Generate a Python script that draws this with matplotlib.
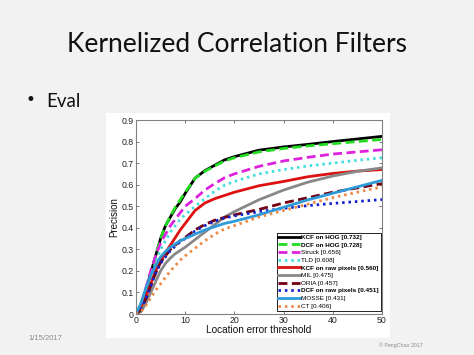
import matplotlib
matplotlib.use('Agg')
import matplotlib.pyplot as plt
from matplotlib.patches import Rectangle
import numpy as np

### data ###
thresholds = [0, 1, 2, 3, 4, 5, 6, 7, 8, 9, 10, 12, 14, 16, 18, 20, 25, 30, 35, 40, 45, 50]

kcf_hog = [0, 0.03, 0.11, 0.19, 0.27, 0.35, 0.41, 0.45, 0.49, 0.52, 0.56, 0.63, 0.665, 0.69, 0.715, 0.73, 0.76, 0.775, 0.787, 0.80, 0.812, 0.824]
dcf_hog = [0, 0.03, 0.11, 0.19, 0.27, 0.35, 0.41, 0.455, 0.495, 0.53, 0.565, 0.63, 0.662, 0.687, 0.71, 0.725, 0.752, 0.768, 0.78, 0.79, 0.80, 0.81]
struck = [0, 0.04, 0.12, 0.2, 0.27, 0.33, 0.37, 0.41, 0.44, 0.47, 0.5, 0.535, 0.575, 0.605, 0.632, 0.65, 0.685, 0.71, 0.727, 0.742, 0.752, 0.762]
tld = [0, 0.03, 0.1, 0.17, 0.24, 0.3, 0.34, 0.38, 0.41, 0.44, 0.46, 0.5, 0.535, 0.57, 0.597, 0.615, 0.65, 0.67, 0.687, 0.70, 0.713, 0.725]
kcf_raw = [0, 0.02, 0.08, 0.14, 0.2, 0.245, 0.285, 0.32, 0.355, 0.39, 0.42, 0.48, 0.515, 0.535, 0.55, 0.565, 0.595, 0.615, 0.637, 0.652, 0.663, 0.67]
mil = [0, 0.01, 0.05, 0.1, 0.15, 0.2, 0.235, 0.26, 0.28, 0.295, 0.31, 0.345, 0.38, 0.415, 0.45, 0.475, 0.53, 0.575, 0.612, 0.64, 0.662, 0.678]
oria = [0, 0.02, 0.07, 0.13, 0.19, 0.24, 0.27, 0.3, 0.32, 0.34, 0.355, 0.39, 0.415, 0.435, 0.448, 0.46, 0.485, 0.515, 0.54, 0.565, 0.585, 0.605]
dcf_raw = [0, 0.02, 0.07, 0.13, 0.19, 0.235, 0.265, 0.295, 0.315, 0.335, 0.35, 0.385, 0.41, 0.43, 0.445, 0.455, 0.475, 0.49, 0.503, 0.513, 0.522, 0.531]
mosse = [0, 0.05, 0.12, 0.18, 0.225, 0.265, 0.29, 0.31, 0.325, 0.34, 0.35, 0.37, 0.39, 0.405, 0.42, 0.43, 0.46, 0.495, 0.53, 0.56, 0.59, 0.62]
ct = [0, 0.01, 0.04, 0.075, 0.11, 0.14, 0.17, 0.2, 0.225, 0.25, 0.27, 0.305, 0.34, 0.37, 0.395, 0.41, 0.45, 0.48, 0.51, 0.54, 0.565, 0.59]

labels = ['KCF on HOG [0.732]', 'DCF on HOG [0.728]', 'Struck [0.656]', 'TLD [0.608]',
          'KCF on raw pixels [0.560]', 'MIL [0.475]', 'ORIA [0.457]',
          'DCF on raw pixels [0.451]', 'MOSSE [0.431]', 'CT [0.406]']
bold_entries = [0, 1, 4, 7]

series = [kcf_hog, dcf_hog, struck, tld, kcf_raw, mil, oria, dcf_raw, mosse, ct]
colors = ['#000000', '#22dd22', '#dd22dd', '#44dddd', '#dd1111', '#888888', '#700010', '#1122cc', '#2f9ad8', '#ee8844']
dash = (0, (3.2, 1.6))
dot = (0, (0.9, 1.4))
styles = ['-', dash, dash, dot, '-', '-', dash, dot, '-', dot]

### slide ###
fig = plt.figure(figsize=(4.74, 3.55), dpi=100, facecolor='#f2f2f2')
fig.text(0.5, 1 - 45 / 355, 'Kernelized Correlation Filters', ha='center', va='center',
         fontsize=19, family='Lato', color='#111111')
fig.text(30 / 474, 1 - 100 / 355, u'\u2022', ha='center', va='center', fontsize=12, family='DejaVu Sans', color='#111111')
fig.text(46 / 474, 1 - 107 / 355, 'Eval', ha='left', va='baseline', fontsize=13.5, family='Lato', color='#111111')
fig.text(28 / 474, 1 - 338 / 355, '1/15/2017', ha='left', va='center', fontsize=5.5, family='Liberation Sans', color='#8a8a8a')
fig.text(423 / 474, 1 - 345 / 355, u'\u00a9 PengChao 2017', ha='right', va='center', fontsize=3.8, family='Liberation Sans', color='#8a8a8a')

# white panel behind the matlab figure
fig.add_artist(Rectangle((106 / 474, 1 - 338 / 355), (390 - 106) / 474, (338 - 113) / 355,
                         transform=fig.transFigure, facecolor='white', edgecolor='none', zorder=0))

### chart ###
ax = fig.add_axes([136 / 474, 1 - 314 / 355, (382 - 136) / 474, (314 - 120) / 355])
ax.set_facecolor('white')
for i, s in enumerate(series):
    ax.plot(thresholds, s, color=colors[i], linestyle=styles[i], linewidth=2.0, label=labels[i],
            dash_capstyle='butt')

ax.set_xlim(0, 50)
ax.set_ylim(0, 0.9)
ax.set_xticks(np.arange(0, 51, 10))
yt = np.arange(0, 0.91, 0.1)
ax.set_yticks(yt)
ax.set_yticklabels(['%g' % round(v, 1) for v in yt])
ax.tick_params(direction='in', top=True, right=True, length=2.5, width=0.6, color='#666666',
               labelsize=6.3, pad=1.5, labelcolor='#222222')
for lab in ax.get_xticklabels() + ax.get_yticklabels():
    lab.set_family('Liberation Sans')
for sp in ax.spines.values():
    sp.set_color('#808080')
    sp.set_linewidth(0.8)
ax.set_xlabel('Location error threshold', fontsize=7.2, family='Liberation Sans', labelpad=0, color='#111111')
ax.set_ylabel('Precision', fontsize=7, family='Liberation Sans', labelpad=2, color='#111111')

leg = ax.legend(loc='lower right', bbox_to_anchor=(0.996, 0.017), borderaxespad=0,
                prop={'family': 'Liberation Sans', 'size': 4.6}, frameon=True, fancybox=False,
                edgecolor='black', framealpha=1, handlelength=3.3, handletextpad=0.3,
                labelspacing=0.34, borderpad=0.3)
leg.get_frame().set_linewidth(0.6)
for i, t in enumerate(leg.get_texts()):
    if i in bold_entries:
        t.set_fontweight('bold')

plt.savefig('out.png', dpi=100, facecolor=fig.get_facecolor())
